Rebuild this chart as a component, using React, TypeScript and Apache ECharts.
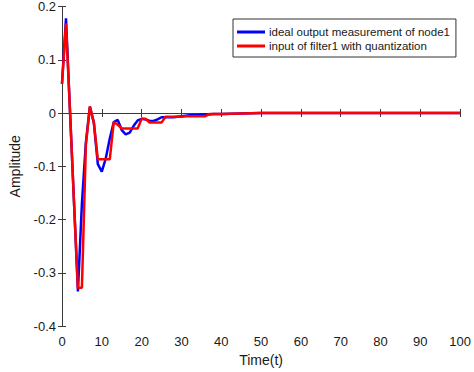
import React, { useEffect, useRef } from "react";
import * as echarts from "echarts";

const timeSteps = [
  0, 1, 2, 3, 4, 5, 6, 7, 8, 9, 10, 11, 12, 13, 14, 15, 16, 17, 18, 19, 20,
  21, 22, 23, 24, 25, 26, 27, 28, 29, 30, 31, 32, 33, 34, 35, 36, 37, 38, 39,
  40, 45, 50, 60, 70, 80, 90, 100,
];

const idealOutput = [
  0.055, 0.178, 0.005, -0.165, -0.335, -0.17, -0.055, 0.012, -0.018, -0.096,
  -0.11, -0.085, -0.048, -0.017, -0.013, -0.032, -0.04, -0.037, -0.024, -0.014,
  -0.011, -0.012, -0.015, -0.015, -0.012, -0.008, -0.008, -0.008, -0.008,
  -0.007, -0.006, -0.005, -0.004, -0.004, -0.004, -0.003, -0.003, -0.003,
  -0.002, -0.002, -0.002, -0.001, 0, 0, 0, 0, 0, 0,
];

const quantizedInput = [
  0.055, 0.168, 0.005, -0.165, -0.328, -0.328, -0.06, 0.012, -0.018, -0.087,
  -0.087, -0.087, -0.087, -0.017, -0.022, -0.029, -0.029, -0.029, -0.029,
  -0.029, -0.011, -0.011, -0.018, -0.018, -0.018, -0.018, -0.007, -0.007,
  -0.007, -0.007, -0.007, -0.006, -0.006, -0.006, -0.006, -0.006, -0.006,
  -0.002, -0.002, -0.002, -0.002, -0.001, 0, 0, 0, 0, 0, 0,
];

const seriesNames = [
  "ideal output measurement of node1",
  "input of filter1 with quantization",
];

const xTicks = { min: 0, max: 100, interval: 10 };
const yTicks = { min: -0.4, max: 0.2, interval: 0.1 };

const FONT = "Liberation Sans, Arial, Helvetica, sans-serif";
const AXIS_COLOR = "#3a3a3a";
const TEXT_COLOR = "#1a1a1a";

export default function App() {
  const ref = useRef<HTMLDivElement>(null);

  useEffect(() => {
    document.body.style.margin = "0";
    if (!ref.current) return;
    const chart = echarts.init(ref.current, undefined, { renderer: "svg" });

    const tickStyle = {
      show: true,
      inside: true,
      length: 4,
      lineStyle: { color: AXIS_COLOR, width: 1 },
    };
    const lineStyle = { show: true, lineStyle: { color: AXIS_COLOR, width: 1 } };

    chart.setOption({
      animation: false,
      backgroundColor: "#fff",
      textStyle: { fontFamily: FONT },
      grid: { left: 52, right: 11, top: 6, bottom: 43, containLabel: false },
      legend: {
        orient: "vertical",
        left: 233,
        top: 19,
        width: 219,
        padding: [7, 6, 5, 4],
        itemGap: 2,
        itemWidth: 28,
        itemHeight: 3,
        icon: "rect",
        backgroundColor: "#fff",
        borderColor: "#333",
        borderWidth: 1,
        borderRadius: 0,
        textStyle: { fontSize: 11.5, color: TEXT_COLOR, fontFamily: FONT, padding: [0, 0, 0, -1] },
        data: seriesNames,
      },
      xAxis: [
        {
          type: "value",
          ...xTicks,
          position: "bottom",
          name: "Time(t)",
          nameLocation: "middle",
          nameGap: 27,
          nameTextStyle: { fontSize: 14, color: TEXT_COLOR, fontFamily: FONT },
          axisLine: lineStyle,
          axisTick: tickStyle,
          axisLabel: { fontSize: 13, color: TEXT_COLOR, margin: 9, fontFamily: FONT },
          splitLine: { show: false },
        },
        {
          type: "value",
          ...xTicks,
          position: "top",
          axisLine: lineStyle,
          axisTick: tickStyle,
          axisLabel: { show: false },
          splitLine: { show: false },
        },
      ],
      yAxis: [
        {
          type: "value",
          ...yTicks,
          position: "left",
          name: "Amplitude",
          nameLocation: "middle",
          nameGap: 40,
          nameTextStyle: { fontSize: 14, color: TEXT_COLOR, fontFamily: FONT },
          axisLine: lineStyle,
          axisTick: tickStyle,
          axisLabel: {
            fontSize: 13,
            color: TEXT_COLOR,
            margin: 6,
            fontFamily: FONT,
            formatter: (v: number) => (Math.abs(v) < 1e-9 ? "0" : String(Math.round(v * 10) / 10)),
          },
          splitLine: { show: false },
        },
        {
          type: "value",
          ...yTicks,
          position: "right",
          axisLine: lineStyle,
          axisTick: tickStyle,
          axisLabel: { show: false },
          splitLine: { show: false },
        },
      ],
      series: [
        {
          name: seriesNames[0],
          type: "line",
          data: timeSteps.map((t, i) => [t, idealOutput[i]]),
          showSymbol: false,
          symbol: "none",
          color: "#0000ff",
          lineStyle: { color: "#0000ff", width: 2.5 },
          z: 2,
        },
        {
          name: seriesNames[1],
          type: "line",
          data: timeSteps.map((t, i) => [t, quantizedInput[i]]),
          showSymbol: false,
          symbol: "none",
          color: "#ff0000",
          lineStyle: { color: "#ff0000", width: 2.5 },
          z: 3,
        },
      ],
    });

    return () => chart.dispose();
  }, []);

  return <div ref={ref} style={{ width: 474, height: 372 }} />;
}
